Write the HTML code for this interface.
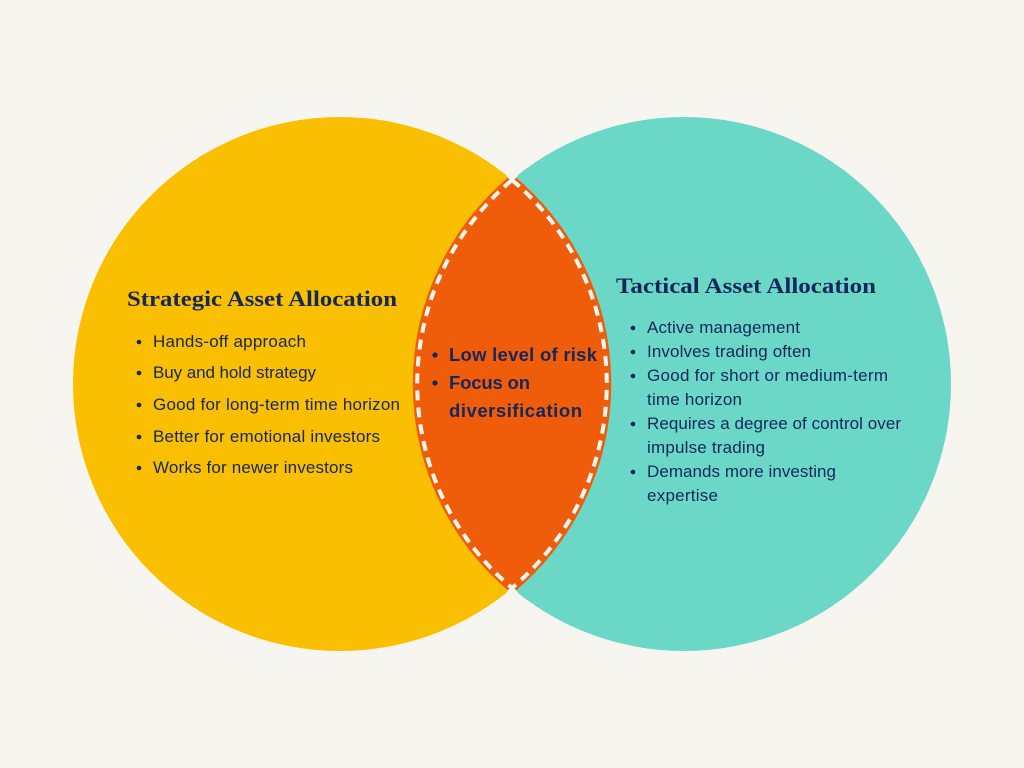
<!DOCTYPE html>
<html><head><meta charset="utf-8"><style>
html,body{margin:0;padding:0;background:#f7f5f0;}
svg{display:block}
.t{font-family:"Liberation Serif",serif;font-weight:bold;font-size:22px;fill:#15275a}
.b{font-family:"Liberation Sans",sans-serif;font-size:17px;fill:#15275a}
.m{font-family:"Liberation Sans",sans-serif;font-size:18.5px;font-weight:bold;fill:#15275a}
</style></head><body>
<svg width="1024" height="768" viewBox="0 0 1024 768">
<rect width="1024" height="768" fill="#f7f5f0"/>
<circle cx="340" cy="384" r="267" fill="#f9bf00"/>
<circle cx="684" cy="384" r="267" fill="#6bd8c7"/>
<path d="M512 180 A267 267 0 0 1 512 588 A267 267 0 0 1 512 180 Z" fill="#f05d0a" stroke="#f05d0a" stroke-width="9"/>
<path d="M512 180 A267 267 0 0 1 512 588 A267 267 0 0 1 512 180 Z" fill="none" stroke="#f7f5f0" stroke-width="4" stroke-dasharray="10 7"/>
<polygon points="500,166 524,166 516,178 512,182 508,178" fill="#f7f5f0"/>
<polygon points="500,602 524,602 516,590 512,586 508,590" fill="#f7f5f0"/>
<text class="t" x="127" y="306" textLength="270" lengthAdjust="spacingAndGlyphs">Strategic Asset Allocation</text>
<g class="b">
<circle cx="139" cy="342" r="2.3" fill="#15275a"/><text x="153" y="347" textLength="153">Hands-off approach</text>
<circle cx="139" cy="373" r="2.3" fill="#15275a"/><text x="153" y="378" textLength="163">Buy and hold strategy</text>
<circle cx="139" cy="405" r="2.3" fill="#15275a"/><text x="153" y="410" textLength="247">Good for long-term time horizon</text>
<circle cx="139" cy="437" r="2.3" fill="#15275a"/><text x="153" y="442" textLength="227">Better for emotional investors</text>
<circle cx="139" cy="468" r="2.3" fill="#15275a"/><text x="153" y="473" textLength="200">Works for newer investors</text>
</g>
<text class="t" x="616" y="293" textLength="260" lengthAdjust="spacingAndGlyphs">Tactical Asset Allocation</text>
<g class="b">
<circle cx="633" cy="328" r="2.3" fill="#15275a"/><text x="647" y="333" textLength="153">Active management</text>
<circle cx="633" cy="352" r="2.3" fill="#15275a"/><text x="647" y="357" textLength="164">Involves trading often</text>
<circle cx="633" cy="376" r="2.3" fill="#15275a"/><text x="647" y="381" textLength="241">Good for short or medium-term</text>
<text x="647" y="405" textLength="95">time horizon</text>
<circle cx="633" cy="424" r="2.3" fill="#15275a"/><text x="647" y="429" textLength="254">Requires a degree of control over</text>
<text x="647" y="453" textLength="118">impulse trading</text>
<circle cx="633" cy="472" r="2.3" fill="#15275a"/><text x="647" y="477" textLength="189">Demands more investing</text>
<text x="647" y="501" textLength="71">expertise</text>
</g>
<g class="m">
<circle cx="435" cy="355" r="2.6" fill="#15275a"/><text x="449" y="361" textLength="148">Low level of risk</text>
<circle cx="435" cy="383" r="2.6" fill="#15275a"/><text x="449" y="389" textLength="81">Focus on</text>
<text x="449" y="417" textLength="133">diversification</text>
</g>
</svg>
</body></html>
